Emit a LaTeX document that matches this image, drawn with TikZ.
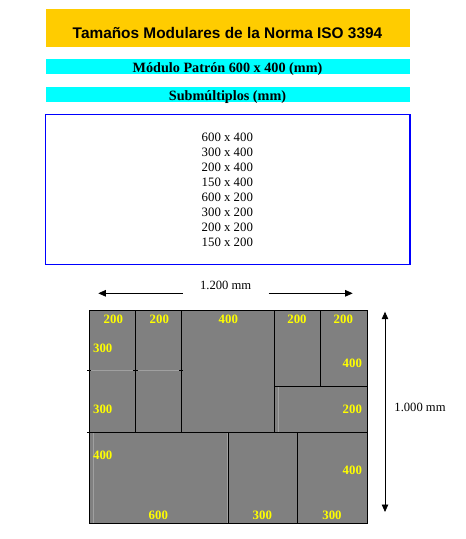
\documentclass[tikz,border=0pt]{standalone}
\usepackage{fontspec}
\setmainfont{Liberation Serif}
\newfontfamily\arialfont{Liberation Sans}
\usetikzlibrary{arrows.meta}
\definecolor{titleorange}{RGB}{255,204,0}
\definecolor{barcyan}{RGB}{0,255,255}
\definecolor{boxblue}{RGB}{0,0,255}
\definecolor{palletgray}{RGB}{128,128,128}
\definecolor{seamgray}{RGB}{160,160,160}
\definecolor{labelyellow}{RGB}{255,255,0}
\tikzset{
  bar/.style={inner sep=0pt, draw=none},
  gridline/.style={black, line width=0.9pt},
  seam/.style={seamgray, line width=0.8pt},
  lbl/.style={inner sep=0pt, text=labelyellow, font=\fontsize{12.8}{14}\selectfont\bfseries},
  dimtext/.style={inner sep=0pt, font=\fontsize{12.6}{14}\selectfont},
  arr/.style={line width=0.8pt, -{Triangle[length=7.5pt,width=6.5pt]}}
}
\begin{document}
\begin{tikzpicture}[x=1pt,y=-1pt]
\useasboundingbox (0,0) rectangle (466,539);
% header bars
\node[bar, fill=titleorange, minimum width=364pt, minimum height=37.7pt] (titlebar) at (228,27.8) {};
\node[inner sep=0pt, anchor=base, font=\arialfont\fontsize{15.4}{17}\selectfont\bfseries] (title) at (227.5,38.3) {Tamaños Modulares de la Norma ISO 3394};
\node[bar, fill=barcyan, minimum width=364pt, minimum height=15pt] (bar1) at (228,66.3) {};
\node[inner sep=0pt, anchor=base, font=\fontsize{14.2}{16}\selectfont\bfseries] (bar1text) at (227.5,72.5) {Módulo Patrón 600 x 400 (mm)};
\node[bar, fill=barcyan, minimum width=364pt, minimum height=15.5pt] (bar2) at (228,94.5) {};
\node[inner sep=0pt, anchor=base, font=\fontsize{14.2}{16}\selectfont\bfseries] (bar2text) at (227.5,100.8) {Submúltiplos (mm)};
% list box
\node[draw=boxblue, line width=1.2pt, minimum width=364.5pt, minimum height=150pt, inner sep=0pt] (listbox) at (227.8,189.3) {};
\node[inner sep=0pt, align=center, font=\fontsize{12.8}{15}\selectfont] (list) at (227.3,190.2)
 {600 x 400\\300 x 400\\200 x 400\\150 x 400\\600 x 200\\300 x 200\\200 x 200\\150 x 200};
% pallet
\fill[palletgray] (89,310.3) rectangle (367.3,523.3);
\draw[seam] (89,370.7) -- (181.3,370.7);
\draw[seam] (93.3,433) -- (93.3,523);
\draw[seam] (227,433) -- (227,523);
\draw[seam] (278,387) -- (278,432);
\draw[gridline] (87,370.7) -- (91,370.7);
\draw[gridline] (133,370.7) -- (138,370.7);
\draw[gridline] (179,370.7) -- (183,370.7);
\draw[gridline] (89,310.3) rectangle (367.3,523.3);
\draw[gridline] (135.3,310.3) -- (135.3,432.3);
\draw[gridline] (181.3,310.3) -- (181.3,432.3);
\draw[gridline] (274.3,310.3) -- (274.3,432.3);
\draw[gridline] (320.3,310.3) -- (320.3,386.3);
\draw[gridline] (274.3,386.3) -- (367.3,386.3);
\draw[gridline] (87,432.3) -- (367.3,432.3);
\draw[gridline] (228.3,432.3) -- (228.3,523.3);
\draw[gridline] (297.3,432.3) -- (297.3,523.3);
% labels
\node[lbl] (l1) at (113.3,319) {200};
\node[lbl] (l2) at (159.3,319) {200};
\node[lbl] (l3) at (228.3,319) {400};
\node[lbl] (l4) at (297,319) {200};
\node[lbl] (l5) at (343.3,319) {200};
\node[lbl] (l6) at (102.7,348.7) {300};
\node[lbl] (l7) at (352.3,363.7) {400};
\node[lbl] (l8) at (102.7,409.7) {300};
\node[lbl] (l9) at (352.3,409.7) {200};
\node[lbl] (l10) at (102.7,455.3) {400};
\node[lbl] (l11) at (352.3,470.3) {400};
\node[lbl] (l12) at (158.3,515.7) {600};
\node[lbl] (l13) at (262.3,515.7) {300};
\node[lbl] (l14) at (332,515.7) {300};
% dimensions
\node[dimtext] (wlabel) at (225.7,285.7) {1.200 mm};
\coordinate (wl) at (182.7,293.3);
\coordinate (wltip) at (98.3,293.3);
\coordinate (wr) at (268.7,293.3);
\coordinate (wrtip) at (352.7,293.3);
\draw[arr] (wl) -- (wltip);
\draw[arr] (wr) -- (wrtip);
\coordinate (hmid) at (385,410);
\coordinate (htop) at (385,311.7);
\coordinate (hbot) at (385,512);
\draw[arr] (hmid) -- (htop);
\draw[arr] (hmid) -- (hbot);
\node[dimtext] (hlabel) at (420,407.3) {1.000 mm};
\end{tikzpicture}
\end{document}
